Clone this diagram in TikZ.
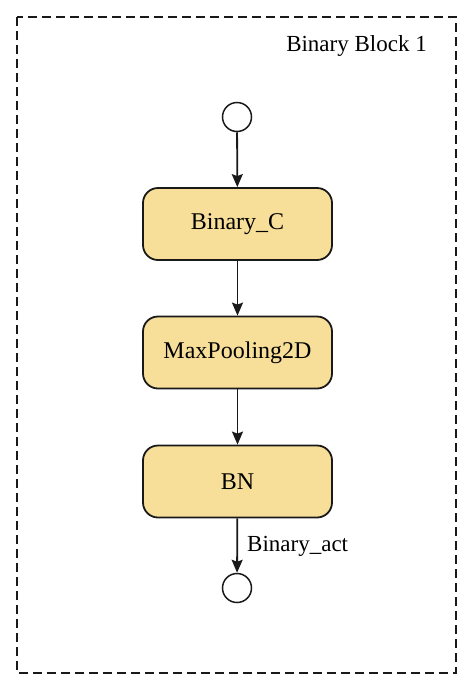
\documentclass[tikz,border=0pt]{standalone}
\usepackage{fontspec}
\setmainfont{Liberation Serif}
\usetikzlibrary{arrows.meta}
\definecolor{boxfill}{RGB}{247,223,154}
\definecolor{linec}{RGB}{25,25,25}
\begin{document}
\begin{tikzpicture}[x=1pt,y=-1pt,
  stepbox/.style={draw=linec,line width=1.8pt,fill=boxfill,rounded corners=15pt,
    minimum width=189pt,minimum height=72pt,inner sep=0pt,font=\fontsize{24}{28}\selectfont},
  port/.style={draw=linec,line width=1.5pt,circle,minimum size=29pt,inner sep=0pt,fill=white},
  flow/.style={draw=linec,line width=1.8pt,-{Stealth[length=13pt,width=11pt,inset=2pt]}},
  lbl/.style={font=\fontsize{23}{27}\selectfont,inner sep=0pt}]
\useasboundingbox (0,0) rectangle (474,691);
\draw[linec,line width=1.6pt,dash pattern=on 9pt off 5pt] (17,17) rectangle (456,673);
\node[lbl,anchor=east] (title) at (427,46) {Binary Block 1};
\node[port] (in) at (237,117) {};
\node[stepbox] (b1) at (237.5,224) {Binary\_C};
\node[stepbox] (b2) at (237.5,352.5) {MaxPooling2D};
\node[stepbox] (b3) at (237.5,481.5) {BN};
\node[port] (out) at (237,588) {};
\draw[flow] (in) -- (b1);
\draw[flow] (b1) -- (b2);
\draw[flow] (b2) -- (b3);
\draw[flow] (b3) -- (out);
\node[lbl,anchor=west] (act) at (247,546) {Binary\_act};
\end{tikzpicture}
\end{document}
